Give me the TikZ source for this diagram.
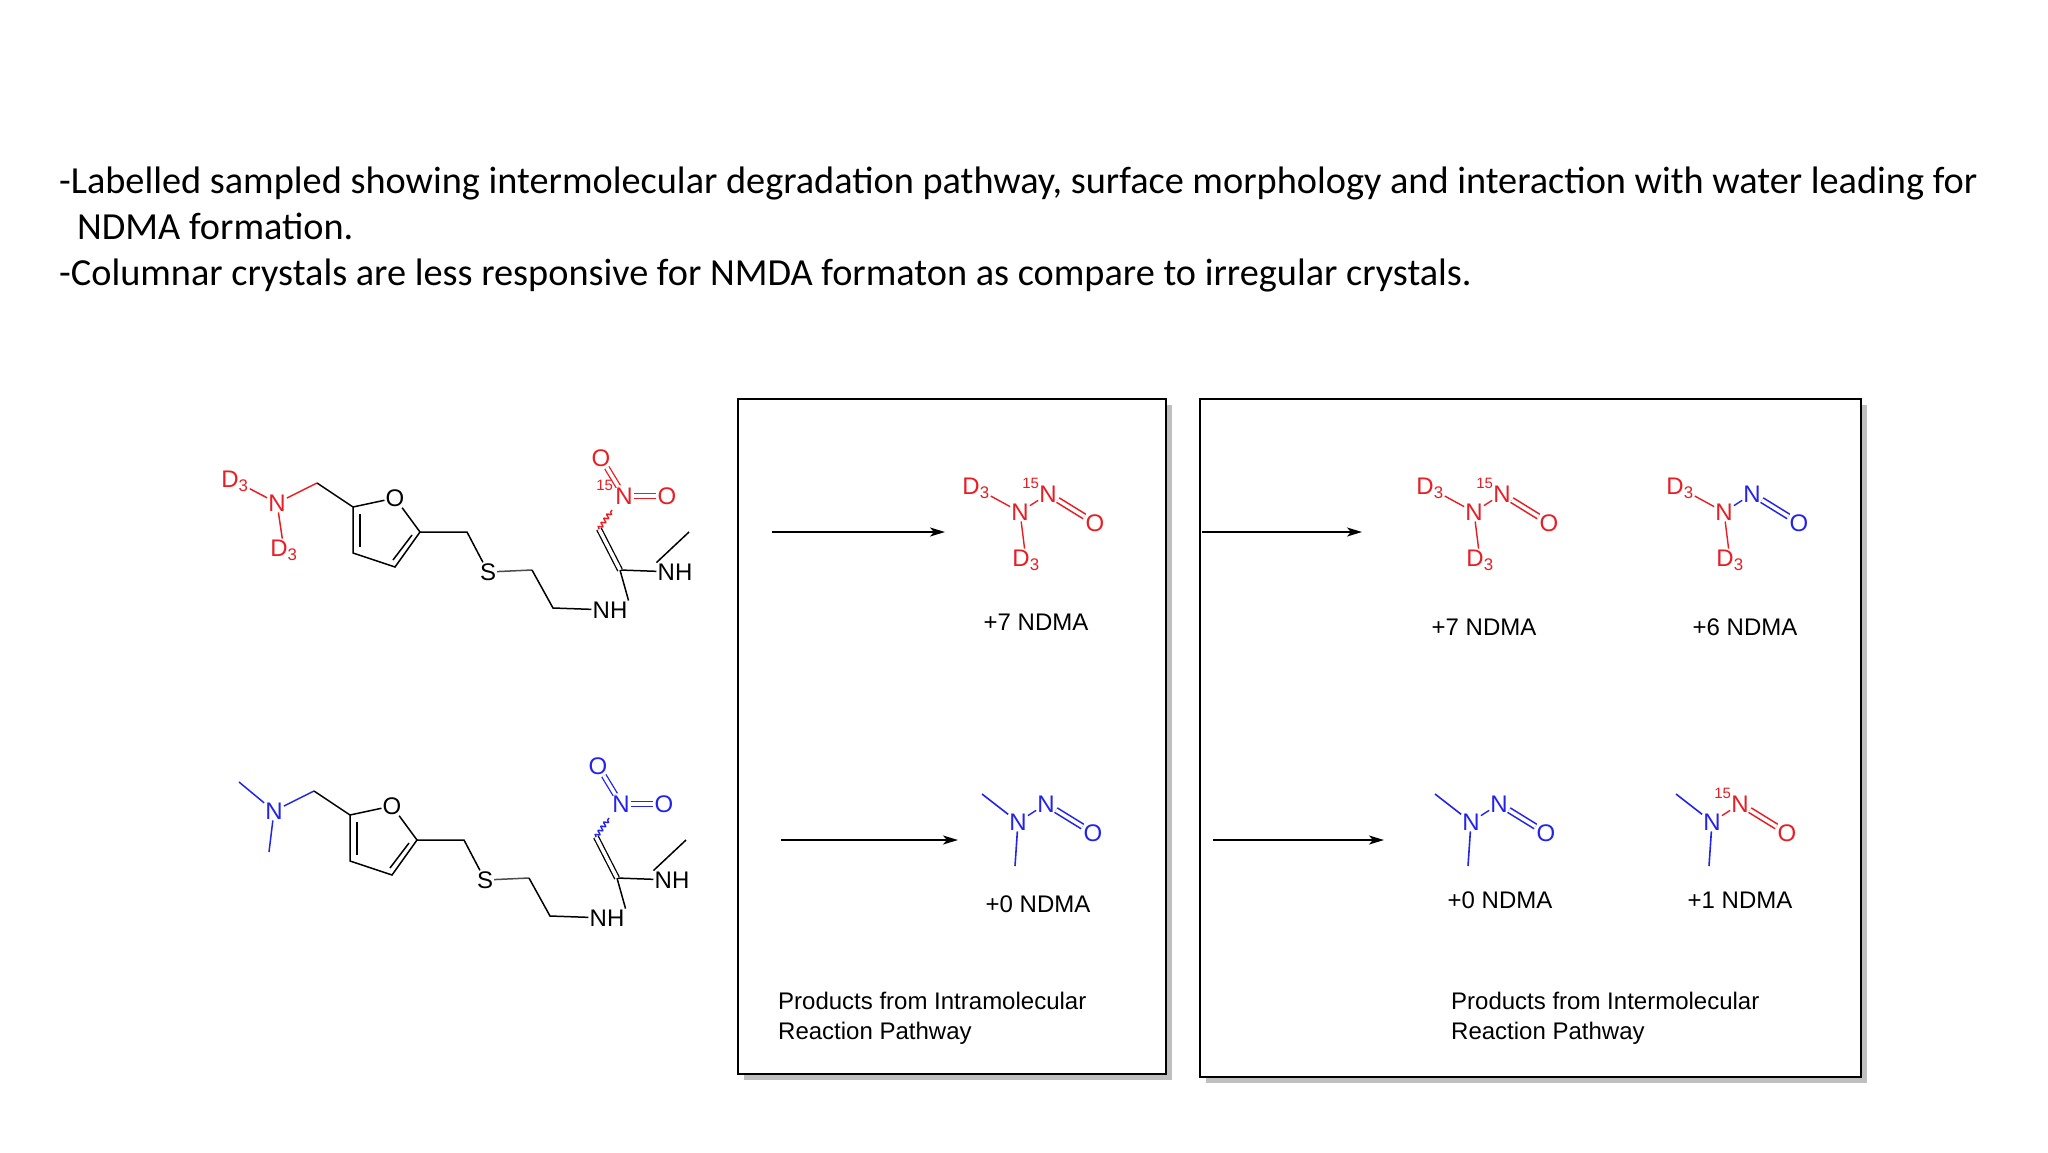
\documentclass[tikz,border=0pt]{standalone}
\usepackage{fontspec}
\setmainfont{Carlito}
\newfontfamily\arialf{Liberation Sans}
\usetikzlibrary{arrows.meta,decorations.pathmorphing}
\definecolor{myred}{RGB}{232,30,36}
\definecolor{myblue}{RGB}{35,35,235}
\tikzset{
  atom/.style={font=\arialf\fontsize{24}{26}\selectfont,inner sep=1pt},
  sup/.style={font=\arialf\fontsize{15}{16}\selectfont,inner sep=0pt},
  bond/.style={line width=2pt},
  lbl/.style={font=\arialf\fontsize{24}{30}\selectfont,inner sep=0pt},
  head/.style={font=\fontsize{38.3}{46}\selectfont,inner sep=0pt,anchor=base west},
  arr/.style={line width=2pt,-{Stealth[length=15pt,width=9pt,inset=4pt]}},
  box/.style={line width=2.2pt,fill=white},
  shadowbox/.style={fill=black!25,draw=none},
  dbl/.style={bond,double,double distance=3.5pt,line width=1.6pt}
}
\newcommand\Dt{D\textsubscript{3}}
\newcommand\ndma[7]{%
\begin{scope}[shift={(#1,#2)},name prefix=#7-]
 \node[atom,text=#3] (c) at (0,0) {N};
 \node[atom,text=#4] (n2) at (28,-18) {N};
 \node[atom,text=#4] (o) at (75,11) {O};
 \ifnum#6=1 \node[sup,text=#4,anchor=south east] at ([xshift=1pt,yshift=-4pt]n2.north west) {15};\fi
 \draw[bond,#4,line width=1.4pt] (c) -- (n2);
 \draw[dbl,#4] (n2) -- (o);
 \ifnum#5=1
  \node[atom,text=#3] (d1) at (-44,-24) {\Dt};
  \node[atom,text=#3] (d2) at (6,48) {\Dt};
  \draw[bond,#3,line width=1.4pt] (c) -- (d1);
  \draw[bond,#3,line width=1.4pt] (c) -- (d2);
 \else
  \coordinate (m1) at (-36,-28);
  \coordinate (m2) at (-3,44);
  \draw[bond,#3,line width=1.6pt] (c) -- (m1);
  \draw[bond,#3,line width=1.6pt] (c) -- (m2);
 \fi
\end{scope}}
\newcommand\ranit[5]{%
\begin{scope}[shift={(#1,#2)},name prefix=#5-]
 \node[atom,text=#3] (n) at (277,503) {N};
 \ifnum#4=1
  \node[atom,text=#3] (d1) at (235,481) {\Dt};
  \node[atom,text=#3] (d2) at (284,550) {\Dt};
  \draw[bond,#3,line width=1.5pt] (n) -- (d1);
  \draw[bond,#3,line width=1.5pt] (n) -- (d2);
 \else
  \coordinate (d1) at (242,474);
  \coordinate (d2) at (272,544);
  \draw[bond,#3,line width=1.5pt] (n) -- (d1);
  \draw[bond,#3,line width=1.5pt] (n) -- (d2);
 \fi
 \coordinate (ca) at (317,483);
 \coordinate (c5) at (353,507);
 \node[atom] (o1) at (395,498) {O};
 \coordinate (c2) at (420,532);
 \coordinate (c3) at (395,567);
 \coordinate (c4) at (353,553);
 \coordinate (cb) at (467,532);
 \node[atom] (s) at (488,572) {S};
 \coordinate (cc) at (532,570);
 \coordinate (cd) at (553,608);
 \node[atom] (nhb) at (610,610) {NH};
 \coordinate (cg) at (620,570);
 \node[atom] (nhr) at (675,572) {NH};
 \coordinate (me) at (689,532);
 \coordinate (cp) at (599,529);
 \coordinate (wv) at (612,510);
 \node[atom,text=#3] (nn) at (624,496) {N};
 \node[atom,text=#3] (ot) at (601,458) {O};
 \node[atom,text=#3] (or) at (667,496) {O};
 \ifnum#4=1 \node[sup,text=#3,anchor=south east] at ([xshift=-1pt,yshift=-4pt]nn.north west) {15};\fi
 \draw[bond,#3,line width=1.5pt] (n) -- (ca);
 \draw[bond,line width=1.5pt] (ca) -- (c5);
 \draw[bond,line width=1.5pt] (c5) -- (o1) -- (c2) -- (c3) -- (c4) -- (c5);
 \draw[bond,line width=1.5pt] (360,514) -- (360,547);
 \draw[bond,line width=1.5pt] (412,535) -- (393,560);
 \draw[bond,line width=1.5pt] (c2) -- (cb) -- (s);
 \draw[bond,line width=1.5pt,black!70] (s) -- (cc);
 \draw[bond,line width=1.5pt] (cc) -- (cd) -- (nhb);
 \draw[bond,line width=1.5pt] (nhb.north east) -- (cg) -- (nhr);
 \draw[bond,line width=1.5pt] (nhr.north west) -- (me);
 \draw[dbl,line width=1.3pt] (cg) -- (cp);
 \draw[#3,line width=1.4pt,decorate,decoration={snake,amplitude=2pt,segment length=5pt}] (cp) -- (wv);
 \draw[dbl,#3,line width=1.3pt] (nn) -- (ot);
 \draw[dbl,#3,line width=1.3pt] (nn) -- (or);
\end{scope}}
\begin{document}
\begin{tikzpicture}[x=1pt,y=-1pt]
\path[use as bounding box,fill=white] (0,0) rectangle (2048,1152);
\node[head] (t1) at (59,193) {-Labelled sampled showing intermolecular degradation pathway, surface morphology and interaction with water leading for};
\node[head] (t2) at (77,239) {NDMA formation.};
\node[head] (t3) at (59,285) {-Columnar crystals are less responsive for NMDA formaton as compare to irregular crystals.};
\fill[shadowbox] (744,405) rectangle (1172,1080);
\fill[shadowbox] (1206,405) rectangle (1867,1083);
\draw[box] (738,399) rectangle (1166,1074);
\draw[box] (1200,399) rectangle (1861,1077);
\ranit{0}{0}{myred}{1}{A}
\ranit{-3}{308}{myblue}{0}{B}
\coordinate (a1s) at (772,532); \coordinate (a1e) at (945,532);
\coordinate (a2s) at (781,840); \coordinate (a2e) at (958,840);
\coordinate (a3s) at (1202,532); \coordinate (a3e) at (1362,532);
\coordinate (a4s) at (1213,840); \coordinate (a4e) at (1384,840);
\draw[arr] (a1s) -- (a1e);
\draw[arr] (a2s) -- (a2e);
\draw[arr] (a3s) -- (a3e);
\draw[arr] (a4s) -- (a4e);
\ndma{1020}{512}{myred}{myred}{1}{1}{P1}
\ndma{1018}{822}{myblue}{myblue}{0}{0}{P2}
\ndma{1474}{512}{myred}{myred}{1}{1}{P3}
\ndma{1724}{512}{myred}{myblue}{1}{0}{P4}
\ndma{1471}{822}{myblue}{myblue}{0}{0}{P5}
\ndma{1712}{822}{myblue}{myred}{0}{1}{P6}
\node[lbl] (l1) at (1036,622) {+7 NDMA};
\node[lbl] (l2) at (1038,904) {+0 NDMA};
\node[lbl] (l3) at (1484,627) {+7 NDMA};
\node[lbl] (l4) at (1745,627) {+6 NDMA};
\node[lbl] (l5) at (1500,900) {+0 NDMA};
\node[lbl] (l6) at (1740,900) {+1 NDMA};
\node[lbl,anchor=north west,align=left] (f1) at (778,992) {Products from Intramolecular\\Reaction Pathway};
\node[lbl,anchor=north west,align=left] (f2) at (1451,992) {Products from Intermolecular\\Reaction Pathway};
\end{tikzpicture}
\end{document}
